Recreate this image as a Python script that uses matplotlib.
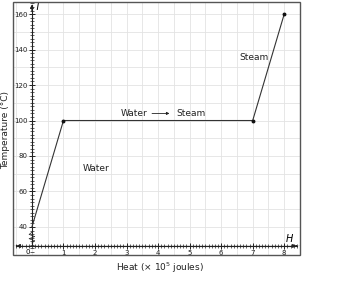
import matplotlib.pyplot as plt
from matplotlib.patches import Rectangle
from matplotlib.ticker import MultipleLocator, FixedLocator

# heating curve for water
heat = [0, 1, 7, 8]          # x 10^5 joules
temp = [40, 100, 100, 160]   # deg C
x_ticks = [1, 2, 3, 4, 5, 6, 7, 8]
y_ticks = [40, 60, 80, 100, 120, 140, 160]

AX_Y = 29.3  # where the H axis crosses (broken axis)

fig = plt.figure(figsize=(3.39, 2.89), dpi=100)
ax = fig.add_axes([13 / 339, 1 - 255 / 289, 287 / 339, 253 / 289])
ax.set_xlim(-0.6, 8.5)
ax.set_ylim(24.2, 166.8)

# grid
ax.xaxis.set_minor_locator(MultipleLocator(0.1))
ax.yaxis.set_minor_locator(MultipleLocator(2))
for gx in [i * 0.5 for i in range(-1, 18)]:
    ax.axvline(gx, color="#e3e3e3", lw=0.6, zorder=0)
for gy in range(30, 170, 10):
    ax.axhline(gy, color="#e3e3e3", lw=0.6, zorder=0)

# outer frame
for s in ["top", "right"]:
    ax.spines[s].set_visible(False)
ax.add_patch(Rectangle((0, 0), 1, 1, transform=ax.transAxes, fill=False,
                       ec="#555555", lw=1.0, zorder=5, clip_on=False))

# axes through origin
ax.spines["left"].set_position(("data", 0))
ax.spines["bottom"].set_position(("data", AX_Y))
ax.spines["left"].set_bounds(AX_Y, 165)
ax.spines["bottom"].set_bounds(-0.5, 8.4)
for s in ["left", "bottom"]:
    ax.spines[s].set_linewidth(0.8)
    ax.spines[s].set_color("#222222")

ax.xaxis.set_major_locator(FixedLocator(x_ticks))
ax.yaxis.set_major_locator(FixedLocator(y_ticks))
ax.tick_params(which="major", direction="inout", length=4, width=0.7,
               labelsize=5, pad=1, colors="#222222")
ax.tick_params(which="minor", direction="inout", length=2.5, width=0.5,
               colors="#222222")
ax.text(-0.07, AX_Y - 2, "0", fontsize=5, ha="right", va="top")

# arrowheads
ax.annotate("", xy=(0, 167), xytext=(0, 160),
            arrowprops=dict(arrowstyle="-|>", lw=0.8, color="#222222",
                            mutation_scale=5), annotation_clip=False)
ax.annotate("", xy=(8.48, AX_Y), xytext=(8.3, AX_Y),
            arrowprops=dict(arrowstyle="-|>", lw=0.8, color="#222222",
                            mutation_scale=5), annotation_clip=False)
ax.annotate("", xy=(-0.58, AX_Y), xytext=(-0.4, AX_Y),
            arrowprops=dict(arrowstyle="-|>", lw=0.8, color="#222222",
                            mutation_scale=5), annotation_clip=False)

# axis break zigzag
zx = [0, 0.09, -0.09, 0.09, -0.09, 0]
zy = [31.0, 32.2, 33.4, 34.6, 35.8, 37.0]
ax.plot(zx, zy, color="#222222", lw=0.5, zorder=6)

ax.text(0.07, 164, "T", fontsize=7, style="italic", va="center")
ax.text(8.15, 33, "H", fontsize=7, style="italic", ha="center", va="center")

# data
ax.plot(heat, temp, color="#333333", lw=0.8, zorder=4)
ax.plot(heat[1:], temp[1:], "o", color="#111111", ms=1.8, zorder=4)

ax.text(1.6, 73, "Water", fontsize=6.5, va="center", color="#222222")
ax.text(2.82, 104, "Water", fontsize=6.5, va="center", color="#222222")
ax.annotate("", xy=(4.45, 104), xytext=(3.72, 104),
            arrowprops=dict(arrowstyle="-|>", lw=0.6, color="#222222",
                            mutation_scale=4))
ax.text(4.57, 104, "Steam", fontsize=6.5, va="center", color="#222222")
ax.text(6.57, 135.5, "Steam", fontsize=6.5, va="center", color="#222222")

fig.text(160 / 339, 1 - 268 / 289, "Heat (\u00d7 10$^5$ joules)", fontsize=6.5,
         ha="center", va="center", color="#222222")
fig.text(6 / 339, 1 - 130 / 289, "Temperature (\u00b0C)", fontsize=6.5,
         rotation=90, ha="center", va="center", color="#222222")

fig.savefig("out.png", dpi=100)
